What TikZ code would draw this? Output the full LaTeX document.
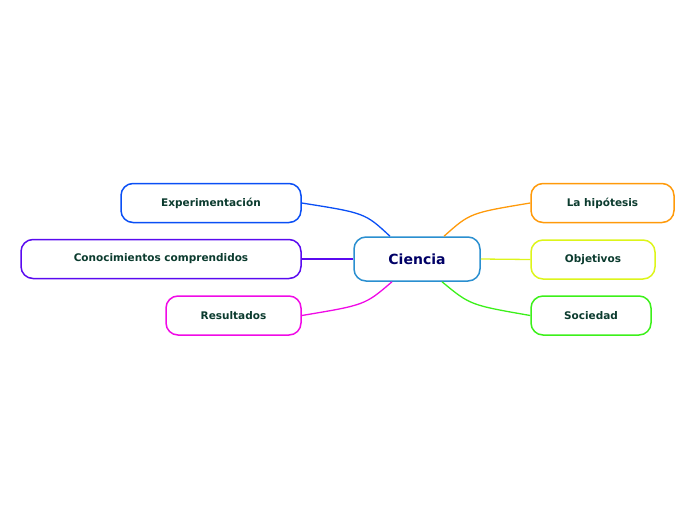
\documentclass[tikz,border=0pt]{standalone}
\usepackage{fontspec}
\setmainfont{DejaVu Sans}
\begin{document}
\begin{tikzpicture}[x=1pt,y=-1pt,
  leaf/.style={draw=#1,line width=1.5pt,rounded corners=12pt,fill=white,text=txt,font=\bfseries\fontsize{10.5}{12}\selectfont,inner sep=0pt,anchor=center},
  conn/.style={draw=#1,line width=1.3pt}]
\definecolor{txt}{HTML}{0B3B2E}
\definecolor{cblue}{HTML}{0A4FF5}
\definecolor{cpurp}{HTML}{5A0AF0}
\definecolor{cmag}{HTML}{F00AE6}
\definecolor{corange}{HTML}{FF9A0A}
\definecolor{cyel}{HTML}{DDF51A}
\definecolor{cgreen}{HTML}{3CF01A}
\definecolor{cmain}{HTML}{2A8FD0}
\useasboundingbox (0,0) rectangle (696,520);
\node[leaf=cmain,minimum width=126pt,minimum height=44pt,text=black!20!blue!50!black,font=\bfseries\fontsize{14}{16}\selectfont] (c) at (417,259) {Ciencia};
\node[leaf=cblue,minimum width=180pt,minimum height=39pt] (e) at (211,203) {Experimentación};
\node[leaf=cpurp,minimum width=280pt,minimum height=39pt] (k) at (161,259) {Conocimientos comprendidos};
\node[leaf=cmag,minimum width=135pt,minimum height=39pt] (r) at (233.5,315.5) {Resultados};
\node[leaf=corange,minimum width=143pt,minimum height=39pt] (h) at (602.5,203) {La hipótesis};
\node[leaf=cyel,minimum width=124pt,minimum height=39pt] (o) at (593,259.5) {Objetivos};
\node[leaf=cgreen,minimum width=120pt,minimum height=39pt] (s) at (591,315.5) {Sociedad};
\begin{scope}[on background layer/.try]
\end{scope}
\draw[conn=cblue] ([xshift=-27pt]c.north) .. controls (365,213) .. (e.east);
\draw[conn=cpurp] (c.west) -- (k.east);
\draw[conn=cmag] ([xshift=-25pt]c.south) .. controls (365,305) .. (r.east);
\draw[conn=corange] ([xshift=27pt]c.north) .. controls (470,213) .. (h.west);
\draw[conn=cyel] (c.east) -- (o.west);
\draw[conn=cgreen] ([xshift=25pt]c.south) .. controls (470,305) .. (s.west);
\end{tikzpicture}
\end{document}
